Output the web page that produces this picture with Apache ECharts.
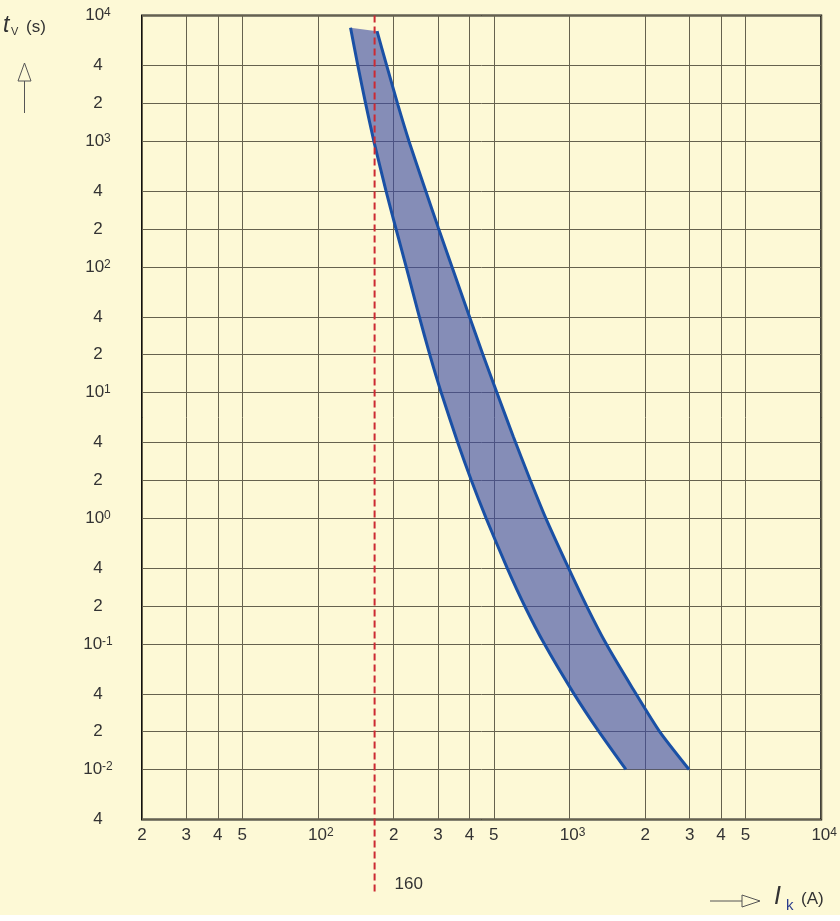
<!DOCTYPE html>
<html><head><meta charset="utf-8">
<script src="https://cdn.jsdelivr.net/npm/echarts@6/dist/echarts.min.js"></script>
<style>html,body{margin:0;padding:0;background:#ffffff;}#c{width:840px;height:921px;}</style>
</head><body><div id="c"></div>
<script>
// ---- data ----
const xTickValues = [20, 30, 40, 50, 100, 200, 300, 400, 500, 1000, 2000, 3000, 4000, 5000, 10000];
const xTickLabels = ['2', '3', '4', '5', '10^2', '2', '3', '4', '5', '10^3', '2', '3', '4', '5', '10^4'];
const yTickValues = [0.004, 0.01, 0.02, 0.04, 0.1, 0.2, 0.4, 1, 2, 4, 10, 20, 40, 100, 200, 400, 1000, 2000, 4000, 10000];
const yTickLabels = ['4', '10^-2', '2', '4', '10^-1', '2', '4', '10^0', '2', '4', '10^1', '2', '4', '10^2', '2', '4', '10^3', '2', '4', '10^4'];

// lower (left) limit curve of the band: current (A) and time (s)
const lowerCurrent = [134.8, 144.1, 154.7, 166.8, 186.6, 204.4, 224.3, 253.0, 278.3, 308.9, 359.4, 406.9, 465.9, 565.3, 663.2, 793.7, 1041.6, 1308.6, 1674];
const lowerTime    = [8000, 4000, 2000, 1000, 400, 200, 100, 40, 20, 10, 4, 2, 1, 0.4, 0.2, 0.1, 0.04, 0.02, 0.01];
// upper (right) limit curve of the band
const upperCurrent = [171.8, 184.8, 208.1, 230.1, 263.9, 301.3, 340.9, 394.5, 452.4, 514.2, 597.9, 698.3, 804.5, 970.3, 1170.5, 1398, 1774, 2280, 2985];
const upperTime    = [7500, 4450, 1934, 1000, 441.4, 203.2, 100, 43.6, 20.1, 10, 4.446, 2.003, 1, 0.4384, 0.1988, 0.1, 0.04479, 0.02003, 0.01];

// marker line (drawn position) and its label text
const markerCurrent = 168;
const markerTime = [10000, 0.00105];
const markerLabel = '160';

// ---- build ----
const lg = Math.log10;
const FONT = '"Liberation Sans", Arial, Helvetica, sans-serif';

function findLabel(values, labels, v) {
  for (let i = 0; i < values.length; i++) {
    if (Math.abs(lg(values[i]) - v) < 1e-6) return labels[i];
  }
  return '';
}
function richLabel(txt, isX) {
  const m = txt.match(/^10\^(.+)$/);
  if (m) return (isX ? '{sp|}' : '') + '{b|10}{s|' + m[1] + '}';
  return isX ? '{b|' + txt + '}' : '{p|' + txt + '}';
}
const richStyles = {
  b: { fontSize: 17, lineHeight: 17, fontFamily: FONT, color: '#333', padding: [7, 0, 0, 0], verticalAlign: 'bottom' },
  p: { fontSize: 17, lineHeight: 17, fontFamily: FONT, color: '#333' },
  s: { fontSize: 12, lineHeight: 12, fontFamily: FONT, color: '#333', verticalAlign: 'top' },
  sp: { width: 6, height: 1 }
};

const lowerData = lowerCurrent.map((c, i) => [lg(c), lg(lowerTime[i])]);
const upperData = upperCurrent.map((c, i) => [lg(c), lg(upperTime[i])]);
const bandPoly = lowerData.concat(upperData.slice().reverse());

const chart = echarts.init(document.getElementById('c'), null, { renderer: 'canvas' });
chart.setOption({
  animation: false,
  backgroundColor: '#fdf9d6',
  grid: {
    left: 142, right: 18, top: 14, bottom: 101.5,
    show: true, borderColor: '#111111', borderWidth: 2,
    backgroundColor: 'transparent'
  },
  xAxis: {
    type: 'value', min: lg(20), max: 4,
    axisLine: { show: false },
    axisTick: { show: false, customValues: xTickValues.map(lg) },
    splitLine: { show: true, lineStyle: { color: '#66624e', width: 1 } },
    axisLabel: {
      customValues: xTickValues.map(lg),
      margin: 7,
      formatter: v => richLabel(findLabel(xTickValues, xTickLabels, v), true),
      rich: richStyles
    }
  },
  yAxis: {
    type: 'value', min: lg(0.004), max: 4,
    axisLine: { show: false },
    axisTick: { show: false, customValues: yTickValues.map(lg) },
    splitLine: { show: true, lineStyle: { color: '#66624e', width: 1 } },
    axisLabel: {
      customValues: yTickValues.map(lg),
      margin: 44, align: 'center',
      formatter: v => richLabel(findLabel(yTickValues, yTickLabels, v), false),
      rich: richStyles
    }
  },
  series: [
    {
      type: 'custom',
      coordinateSystem: 'cartesian2d',
      data: [bandPoly[0]],
      z: 2,
      renderItem: function (params, api) {
        const pts = bandPoly.map(p => api.coord(p));
        return { type: 'polygon', shape: { points: pts }, style: { fill: 'rgba(60,75,165,0.62)' } };
      }
    },
    {
      type: 'line', data: lowerData, showSymbol: false, smooth: 0.2, z: 3,
      lineStyle: { color: '#1a50a5', width: 3 }
    },
    {
      type: 'line', data: upperData, showSymbol: false, smooth: 0.2, z: 3,
      lineStyle: { color: '#1a50a5', width: 3 }
    },
    {
      type: 'line', clip: false, z: 4, showSymbol: false, symbol: 'none',
      data: [[lg(markerCurrent), lg(markerTime[0])], [lg(markerCurrent), lg(markerTime[1])]],
      lineStyle: { color: '#cc2a33', width: 2, type: [7, 4] },
      endLabel: {
        show: true, formatter: markerLabel, distance: 20, offset: [0, -8],
        fontSize: 17, fontFamily: FONT, color: '#333'
      }
    }
  ],
  graphic: [
    { type: 'rect', shape: { x: 0, y: 915, width: 840, height: 6 }, style: { fill: '#ffffff' }, z: 100 },
    // y title
    { type: 'text', x: 3, y: 26, style: { text: 't', font: 'italic 23px ' + FONT, fill: '#333', verticalAlign: 'middle' }, z: 100 },
    { type: 'text', x: 11, y: 32, style: { text: 'V', font: '11px ' + FONT, fill: '#333', verticalAlign: 'middle' }, z: 100 },
    { type: 'text', x: 26, y: 27, style: { text: '(s)', font: '17px ' + FONT, fill: '#333', verticalAlign: 'middle' }, z: 100 },
    { type: 'polygon', shape: { points: [[24.5, 63], [31, 81], [18, 81]] }, style: { fill: 'none', stroke: '#555', lineWidth: 1 }, z: 100 },
    { type: 'line', shape: { x1: 24.5, y1: 81, x2: 24.5, y2: 113 }, style: { stroke: '#555', lineWidth: 1 }, z: 100 },
    // x title
    { type: 'line', shape: { x1: 710, y1: 901, x2: 742, y2: 901 }, style: { stroke: '#555', lineWidth: 1 }, z: 100 },
    { type: 'polygon', shape: { points: [[742, 895], [760, 901], [742, 907]] }, style: { fill: 'none', stroke: '#555', lineWidth: 1 }, z: 100 },
    { type: 'text', x: 774, y: 897, style: { text: 'I', font: 'italic 25px ' + FONT, fill: '#333', verticalAlign: 'middle' }, z: 100 },
    { type: 'text', x: 786, y: 906, style: { text: 'k', font: '15px ' + FONT, fill: '#2a3c8c', verticalAlign: 'middle' }, z: 100 },
    { type: 'text', x: 801, y: 899, style: { text: '(A)', font: '17px ' + FONT, fill: '#333', verticalAlign: 'middle' }, z: 100 }
  ]
});
</script>
</body></html>
